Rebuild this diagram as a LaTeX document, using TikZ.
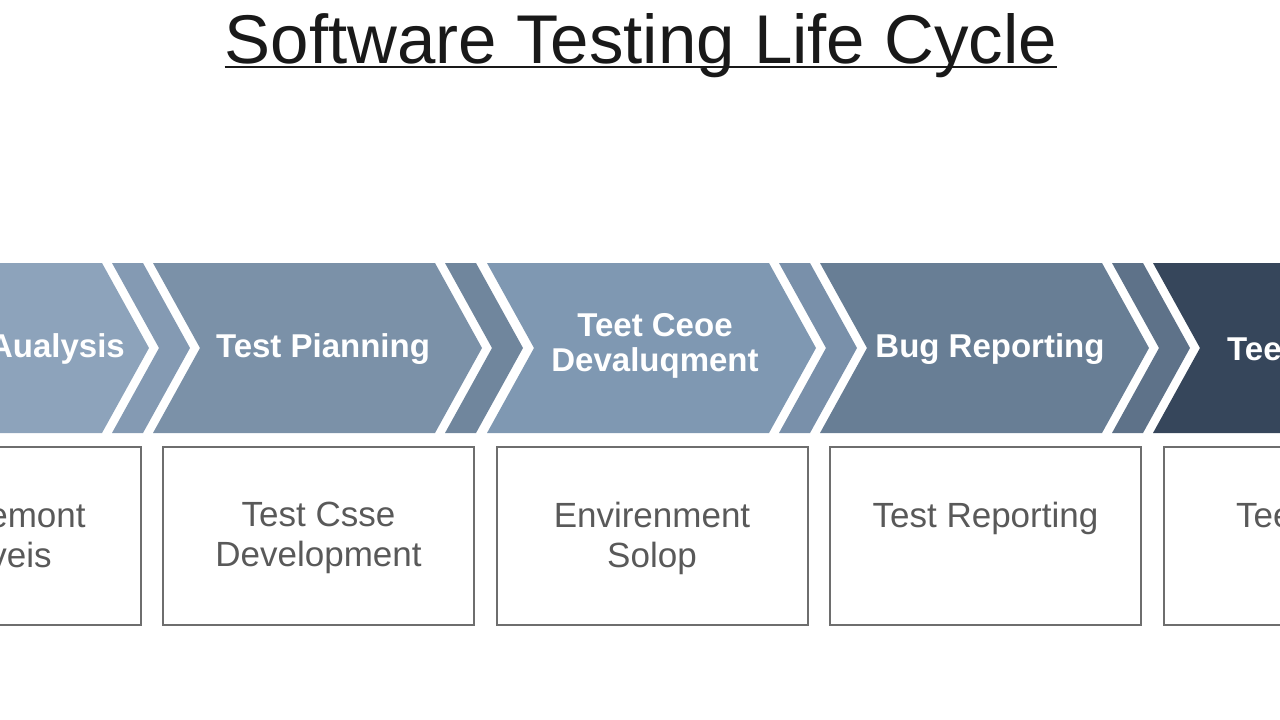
\documentclass[tikz,border=0pt]{standalone}
\usepackage{fontspec}
\setmainfont{Liberation Sans}
\usepackage{xcolor}
\usetikzlibrary{positioning}

\definecolor{chevA}{HTML}{8DA3BB}
\definecolor{bandA}{HTML}{849AB3}
\definecolor{chevB}{HTML}{7B91A8}
\definecolor{bandB}{HTML}{70869D}
\definecolor{chevC}{HTML}{7F98B2}
\definecolor{bandC}{HTML}{7990AA}
\definecolor{chevD}{HTML}{687E95}
\definecolor{bandD}{HTML}{5E7289}
\definecolor{chevE}{HTML}{36465B}
\definecolor{boxline}{HTML}{6E6E6E}
\definecolor{boxtext}{HTML}{595959}

\begin{document}
\begin{tikzpicture}[x=1pt, y=-1pt]
    \tikzstyle{phase} = [anchor=north, inner sep=0pt, align=center, text=white,
        font=\fontsize{33}{35}\selectfont\bfseries, execute at begin node={\vphantom{T}}]
    \tikzstyle{task} = [anchor=north, inner sep=0pt, align=center, text=boxtext,
        font=\fontsize{35}{40}\selectfont, execute at begin node={\vphantom{T}}]
    \tikzstyle{taskbox} = [draw=boxline, line width=2pt, inner sep=0pt,
        minimum width=311pt, minimum height=178pt]

    \useasboundingbox (0,0) rectangle (1280,720);
    \clip (0,0) rectangle (1280,720);

    % title
    \node[anchor=base, inner sep=0pt, text=black!90, font=\fontsize{69}{80}\selectfont]
        (title) at (641,63) {Software Testing Life Cycle};
    \draw[line width=2.5pt, black!90] ([yshift=-4pt]title.base west) -- ([yshift=-4pt]title.base east);

    % chevrons with the thin bands between them
    \foreach \L/\chev/\band in {-180/chevA/bandA, 153/chevB/bandB, 487/chevC/bandC,
                                820/chevD/bandD, 1153/chevE/chevE} {
        \fill[\chev] (\L,263) -- ++(282,0) -- ++(47,85) -- ++(-47,85) -- ++(-282,0) -- ++(47,-85) -- cycle;
        \fill[\band] (\L+292,263) -- ++(31,0) -- ++(47,85) -- ++(-47,85) -- ++(-31,0) -- ++(47,-85) -- cycle;
    }

    \node[phase, anchor=north east] (ana) at (125,333) {Aualysis};
    \node[phase] (plan) at (323,333) {Test Pianning};
    \node[phase] (dev) at (655,313) {Teet Ceoe\\Devaluqment};
    \node[phase] (bug) at (990,333) {Bug Reporting};
    \node[phase, anchor=north west] (tee) at (1227,338) {Tee};

    % boxes below
    \node[taskbox] (b1) at (-14.5,536) {};
    \node[taskbox] (b2) at (318.5,536) {};
    \node[taskbox] (b3) at (652,536) {};
    \node[taskbox] (b4) at (985.5,536) {};
    \node[taskbox] (b5) at (1319,536) {};

    \node[task, below=56pt of b1.north] (t1) {Requiremont\\Analveis};
    \node[task, below=56pt of b2.north] (t2) {Test Csse\\Development};
    \node[task, below=56pt of b3.north] (t3) {Envirenment\\Solop};
    \node[task, below=56pt of b4.north] (t4) {Test Reporting};
    \node[task, anchor=north west] (t5) at (1236,503) {Tee};
\end{tikzpicture}
\end{document}
